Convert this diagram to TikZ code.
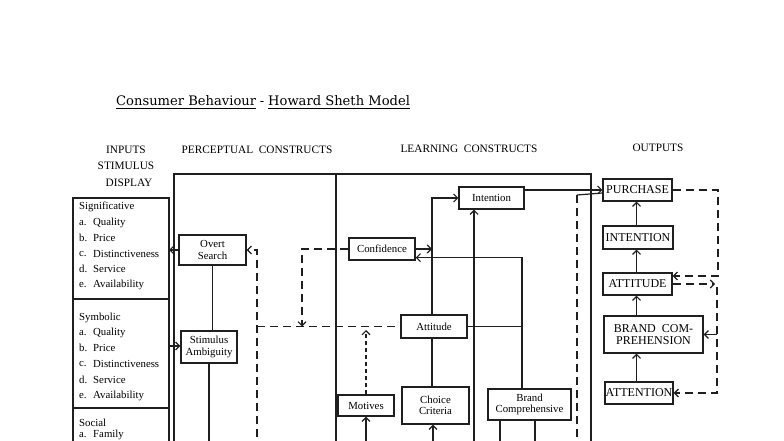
\documentclass[tikz,border=0pt]{standalone}
\usepackage{fontspec}
\setmainfont{Liberation Serif}
\newfontfamily\titlefont{DejaVu Serif}
\usetikzlibrary{arrows.meta}
\begin{document}
\begin{tikzpicture}[x=1pt,y=-1pt,
  ln/.style={line width=1.2pt, draw=black!88},
  bx/.style={draw=black!88, line width=1.4pt, inner sep=0pt, align=center, font=\fontsize{10.8}{11.5}\selectfont},
  ob/.style={bx, font=\fontsize{12}{12.5}\selectfont},
  hd/.style={font=\fontsize{11.3}{13}\selectfont, inner sep=0pt},
  it/.style={font=\fontsize{10.8}{12}\selectfont, inner sep=0pt, anchor=west},
  arr/.style={-{Straight Barb[length=4pt,width=8pt,line width=1.1pt]}},
  dsh/.style={dash pattern=on 8pt off 5pt},
  tt/.style={font=\titlefont\fontsize{13.1}{15}\selectfont, inner sep=0pt, anchor=base west},
]
\useasboundingbox (0,0) rectangle (784,441);
\fill[white] (0,0) rectangle (784,441);
\clip (0,0) rectangle (784,441);

% title
\node[tt] (t1) at (116,106) {Consumer Behaviour};
\node[tt, anchor=base] (t2) at (262,106) {-};
\node[tt] (t3) at (268,106) {Howard Sheth Model};
\draw[line width=1pt] ([yshift=-2.5pt]t1.base west) -- ([yshift=-2.5pt]t1.base east);
\draw[line width=1pt] ([yshift=-2.5pt]t3.base west) -- ([yshift=-2.5pt]t3.base east);

% headers
\node[hd] (hin) at (126,150) {INPUTS};
\node[hd] (hst) at (126,166) {STIMULUS};
\node[hd] (hdi) at (129,183) {DISPLAY};
\node[hd] (hpc) at (257,150) {PERCEPTUAL\ \ CONSTRUCTS};
\node[hd] (hlc) at (469,149) {LEARNING\ \ CONSTRUCTS};
\node[hd] (hout) at (658,148) {OUTPUTS};

% input box
\draw[ln, line width=1.5pt] (73,450) -- (73,198) -- (169,198) -- (169,450);
\draw[ln, line width=1.5pt] (73,299) -- (169,299) (73,408) -- (169,408);
\node[it] (sg) at (79,207) {Significative};
\foreach \yy/\lab/\txt [count=\i] in {223/a./Quality, 238/b./Price, 254/c./Distinctiveness, 269/d./Service, 285/e./Availability}{
  \node[it] (sgl\i) at (79,\yy) {\lab};
  \node[it] (sgt\i) at (93,\yy) {\txt};
}
\node[it] (sy) at (79,318) {Symbolic};
\foreach \yy/\lab/\txt [count=\i] in {333/a./Quality, 348/b./Price, 364/c./Distinctiveness, 380/d./Service, 396/e./Availability}{
  \node[it] (syl\i) at (79,\yy) {\lab};
  \node[it] (syt\i) at (93,\yy) {\txt};
}
\node[it] (so) at (79,423) {Social};
\node[it] (sol1) at (79,435) {a.};
\node[it] (sot1) at (93,435) {Family};

% frame
\draw[ln] (174,450) -- (174,174) -- (591,174) -- (591,450);
\draw[ln] (336,174) -- (336,450);

% perceptual boxes
\node[bx, minimum width=67pt, minimum height=30pt] (overt) at (212.5,250) {Overt\\Search};
\node[bx, minimum width=56pt, minimum height=32pt] (stim) at (209,347) {Stimulus\\Ambiguity};

% learning boxes
\node[bx, minimum width=66pt, minimum height=22pt] (conf) at (382,249) {Confidence};
\node[bx, minimum width=65pt, minimum height=22pt] (intent) at (491.5,198) {Intention};
\node[bx, minimum width=66pt, minimum height=23pt] (att) at (434,326.5) {Attitude};
\node[bx, minimum width=56pt, minimum height=21pt] (motives) at (366,405.5) {Motives};
\node[bx, minimum width=67pt, minimum height=37pt] (choice) at (435.5,405.5) {Choice\\Criteria};
\node[bx, minimum width=83pt, minimum height=31pt] (brand) at (529.5,404.5) {Brand\\Comprehensive};

% output boxes
\node[ob, minimum width=69pt, minimum height=22pt] (purch) at (637.5,190) {PURCHASE};
\node[ob, minimum width=70pt, minimum height=23pt] (ointent) at (638,237.5) {INTENTION};
\node[ob, minimum width=69pt, minimum height=22pt] (oatt) at (637.5,284) {ATTITUDE};
\node[ob, minimum width=99pt, minimum height=37pt] (obrand) at (653.5,334.5) {BRAND\ \ COM-\\PREHENSION};
\node[ob, minimum width=68pt, minimum height=22pt] (oattn) at (639,393) {ATTENTION};

% coordinates
\coordinate (inS) at (169,250);
\coordinate (inY) at (169,346);
\coordinate (dA) at (257,450);
\coordinate (dB) at (302,326.5);
\coordinate (mtip) at (366,330);
\coordinate (mb) at (366,450);
\coordinate (cb) at (433,450);
\coordinate (vx) at (432,0);
\coordinate (vy) at (474,450);
\coordinate (vz) at (522,0);
\coordinate (b1) at (500,450);
\coordinate (b2) at (535,450);
\coordinate (vd) at (577,450);
\coordinate (vdt) at (577,195);
\coordinate (ox) at (636.5,0);
\coordinate (r1) at (718,276);
\coordinate (r2) at (715,284);
\coordinate (r3) at (717,287);
\coordinate (sb) at (209,450);

% perceptual connectors
\draw[ln,arr] (overt.west) -- (inS);
\draw[ln,arr] (inY) -- (stim.west |- inY);
\draw[ln] (overt.south) -- (overt.south |- stim.north);
\draw[ln] (stim.south) -- (sb);
\draw[ln,dsh,arr] (dA) |- (overt.east);
\draw[ln,dsh] (dA |- att.west) -- (att.west);
\draw[ln,dsh,arr] (conf.west) -| (dB);

% learning connectors
\draw[ln,dash pattern=on 4pt off 3pt,arr] (motives.north) -- (mtip);
\draw[ln,arr] (mb) -- (motives.south);
\draw[ln,arr] (cb) -- (cb |- choice.south);
\draw[ln] (vx |- choice.north) -- (vx |- att.south);
\draw[ln,arr] (vx |- att.north) |- (intent.west);
\draw[ln,arr] (conf.east) -- (vx |- conf.east);
\draw[ln,arr] (vy) -- (vy |- intent.south);
\draw[ln] (att.east) -- (vz |- att.east);
\draw[ln,arr] (vz |- brand.north) |- ([yshift=3pt]conf.south east);
\draw[ln] (b1 |- brand.south) -- (b1);
\draw[ln] (b2 |- brand.south) -- (b2);
\draw[ln,arr] (intent.east |- purch.west) -- (purch.west);
\draw[ln,dsh] (vd) -- (vdt);
\draw[ln] (vdt) -- ([yshift=-3pt]purch.west);

% output connectors
\draw[ln,arr] (ox |- oattn.north) -- (ox |- obrand.south);
\draw[ln,arr] (ox |- obrand.north) -- (ox |- oatt.south);
\draw[ln,arr] (ox |- oatt.north) -- (ox |- ointent.south);
\draw[ln,arr] (ox |- ointent.north) -- (ox |- purch.south);
\draw[ln,dsh,arr] (purch.east) -| (r1) -- ([yshift=8pt]oatt.east);
\draw[ln,dsh,arr] (oatt.east) -- (r2);
\draw[ln,dsh,arr] (r3) |- (oattn.east);
\draw[ln,arr] (r3 |- obrand.east) -- (obrand.east);
\end{tikzpicture}
\end{document}
